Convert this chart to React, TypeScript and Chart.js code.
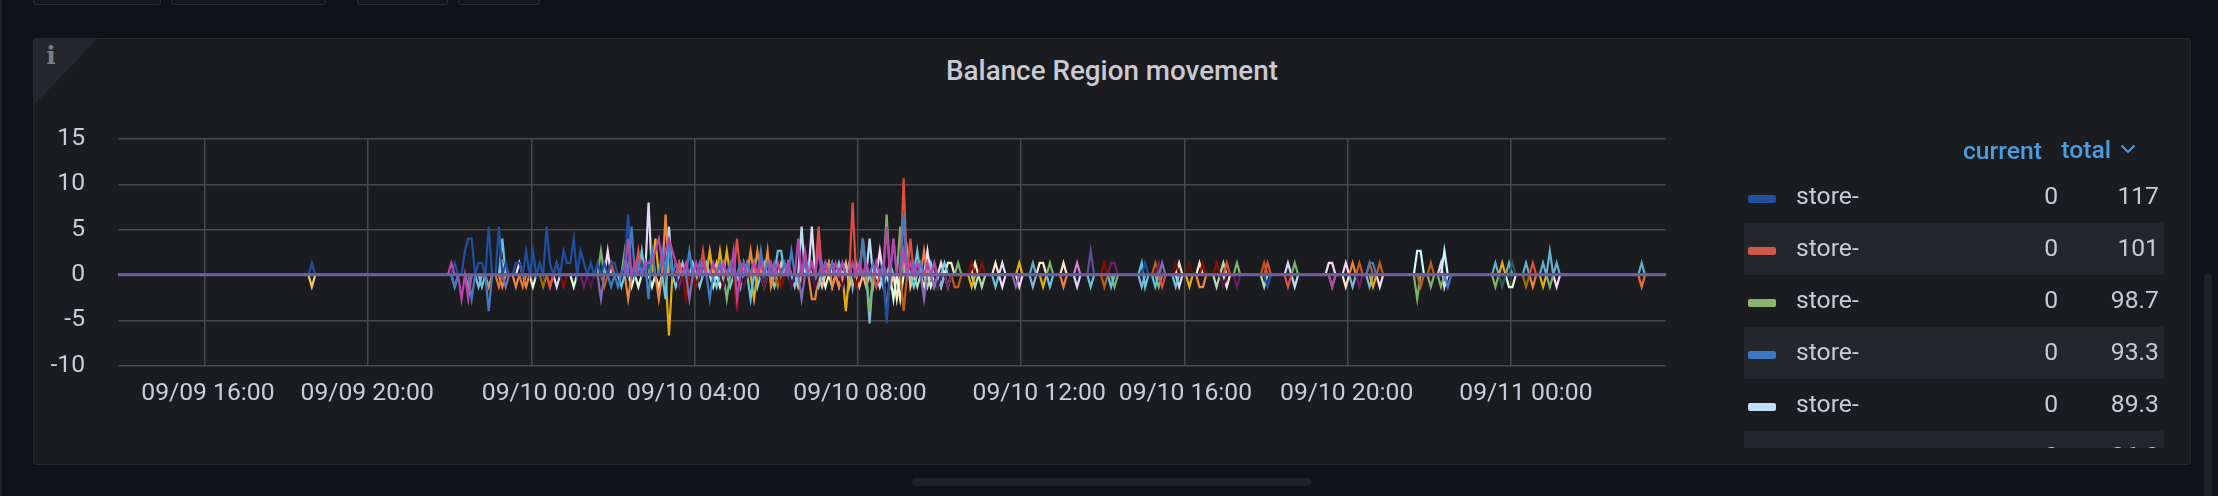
import React, { useEffect, useRef } from "react";
import { Chart, registerables } from "chart.js";

Chart.register(...registerables);

// Axis content
const tickHours = [16, 20, 24, 28, 32, 36, 40, 44, 48];
const tickLabels = ["09/09 16:00", "09/09 20:00", "09/10 00:00", "09/10 04:00", "09/10 08:00", "09/10 12:00", "09/10 16:00", "09/10 20:00", "09/11 00:00"];
const yTicks = [-10, -5, 0, 5, 10, 15];

// Legend content
const legendLabels = ["store-", "store-", "store-", "store-", "store-", "store-"];
const legendCurrent = ["0", "0", "0", "0", "0", "0"];
const legendTotal = ["117", "101", "98.7", "93.3", "89.3", "86.0"];
const legendColors = ["#2150a0", "#d2584a", "#8ab374", "#3d79c2", "#bfe0f5", "#6ed0e0"];

// Sampling of the panel: a point every 5 minutes. Events are [sample, multiple of 1.33].
const firstHour = 13.87;
const stepHours = 1 / 12;
const sampleCount = 456;
const rateUnit = 4 / 3;

type Ev = [number, number];

const darkBlue: Ev[] = [[57,1],[99,1],[102,2],[103,3],[104,3],[106,1],[107,1],[109,4],[112,4],[114,1],[117,1],[118,1],[120,2],[122,2],[124,1],[126,4],[127,1],[129,1],[131,2],[132,1],[133,1],[134,3],[136,2],[137,1],[139,1],[141,1],[143,1],[145,1],[146,1],[149,1],[150,5],[154,1],[156,1],[226,-4],[302,1],[338,-1]];
const blue: Ev[] = [[99,-1],[104,-2],[109,-3],[145,-1],[147,-1],[149,1],[151,4],[153,1],[155,1],[156,-2],[157,2],[160,2],[162,3],[164,1],[168,2],[171,1],[174,-2],[177,1],[180,1],[183,1],[185,1],[189,2],[191,1],[193,1],[196,1],[198,2],[202,1],[207,1],[210,1],[213,1],[219,3],[222,1],[225,1],[228,3],[231,5],[234,1],[236,1],[240,1],[368,1],[369,1],[391,-1]];
const red: Ev[] = [[127,-1],[145,1],[153,2],[165,1],[172,2],[182,3],[192,1],[206,4],[216,6],[223,-1],[231,8],[233,3],[307,-1],[326,1],[338,1],[344,-1],[416,1]];
const green: Ev[] = [[99,-1],[103,-1],[142,2],[149,2],[157,2],[179,-2],[221,-3],[226,5],[230,4],[247,1],[274,1],[293,-1],[306,-1],[329,1],[346,1],[357,-1],[382,-2],[386,-1],[389,-1],[405,-1],[421,-1]];
const yellow: Ev[] = [[158,3],[162,-5],[174,2],[177,2],[179,2],[187,-2],[214,-3],[251,-1],[265,1],[272,-1],[315,-1],[369,-1],[407,1],[419,-1]];
const paleYellow: Ev[] = [[57,-1]];
const orange: Ev[] = [[109,-1],[113,-1],[117,-1],[120,-1],[150,-2],[159,-2],[161,5],[186,2],[188,2],[191,2],[192,-1],[204,-2],[205,-2],[209,1],[210,-1],[212,-1],[219,3],[237,2],[278,-1],[318,-1],[319,-1],[363,1],[416,-1]];
const burntOrange: Ev[] = [[112,-1],[119,-1],[127,-1],[448,-1]];
const magenta: Ev[] = [[98,1],[101,-2],[103,-2],[150,3],[152,1],[155,1],[156,1],[157,1],[158,2],[159,3],[160,1],[161,2],[162,3],[163,2],[164,1],[167,1],[170,1],[172,1],[175,1],[178,1],[181,2],[182,-2],[184,1],[187,1],[189,1],[192,1],[194,1],[197,1],[200,3],[202,2],[204,1],[206,2],[208,1],[211,1],[213,1],[216,1],[218,1],[220,1],[223,1],[226,4],[228,3],[231,2],[233,1],[235,1],[238,1],[240,1],[357,-1]];
const teal: Ev[] = [[107,-1],[113,3],[148,-1],[154,2],[161,-2],[162,3],[186,-2],[194,2],[195,2],[235,2],[258,-1],[274,-1],[286,-1],[292,-1],[301,1],[302,-1],[305,-1],[311,-1]];
const greyTeal: Ev[] = [[269,1],[405,1],[409,1],[414,1],[419,1],[421,2],[423,1],[448,1]];
const lightTeal: Ev[] = [[164,-1],[166,1],[169,1],[171,-1],[173,1],[176,-1],[178,1],[180,-1],[183,-1],[184,1],[187,1],[188,-1],[190,1],[193,-1],[197,1],[199,-1],[203,1],[206,-1],[208,1],[212,1],[215,1],[216,-1],[217,1],[222,-1],[223,1],[225,-1],[227,1],[232,1],[234,-1],[239,1],[241,-1],[243,1]];
const peach: Ev[] = [[165,1],[176,1],[185,1],[190,-1],[195,1],[200,-1],[207,-1],[210,1],[212,-1],[214,1],[215,-1],[218,-1],[220,-1],[227,-1],[232,2],[233,-1],[240,-1]];
const cream: Ev[] = [[113,1],[209,1],[229,-2],[242,1],[244,1],[245,1],[252,1],[258,1],[271,1],[272,1],[278,1],[312,1],[318,1],[326,-1],[361,-1]];
const paleGreen: Ev[] = [[122,-1],[134,-1],[151,-1],[153,-1],[157,-1],[159,-1],[175,-1],[177,-1],[208,-1],[210,-1],[228,-2],[230,-2],[237,-1],[239,-1],[242,-1],[244,-1],[409,-1],[410,-1]];
const sage: Ev[] = [[235,-1],[238,-1],[252,-1],[254,-1],[323,-1],[325,1],[337,-1]];
const lilac: Ev[] = [[129,-1],[156,6],[204,4],[224,-1],[260,1],[282,-1],[312,-1],[344,1],[389,1],[390,-1]];
const paleBlue: Ev[] = [[162,4],[201,4],[221,3],[346,-1]];
const steelBlue: Ev[] = [[106,-1],[221,-4],[242,-1],[269,-1],[301,-1],[363,-1],[368,-1]];
const darkRed: Ev[] = [[131,-1],[167,-2],[170,-1],[182,-3],[195,-1],[217,-1],[251,1],[254,1],[290,1],[319,1],[323,1]];
const maroon: Ev[] = [[311,1],[315,1]];
const plum: Ev[] = [[137,-1],[165,-1],[244,-1],[292,1],[293,1],[306,1],[329,-1],[365,-1]];
const darkPlum: Ev[] = [[139,-1],[178,-1],[184,-1],[190,-1],[198,-1],[205,-1],[213,-1],[241,-1],[325,-1]];
const violet: Ev[] = [[114,-1],[129,1],[142,-2],[168,-2],[201,-2],[226,-3],[237,-2],[240,-1],[264,-1],[307,1]];
const indigo: Ev[] = [[286,2]];
const olive: Ev[] = [[125,-1],[194,-1],[414,-1]];
const brown: Ev[] = [[143,-1],[231,-3],[246,-1],[247,-1],[290,-1],[305,1],[337,1],[365,1],[368,1],[371,1],[383,-1],[386,1]];
const pink: Ev[] = [[118,1],[144,2],[224,2],[238,2],[260,-1],[265,-1],[356,1],[357,1],[361,1],[371,-1],[423,-1]];
const orchid: Ev[] = [[282,1]];
const darkTeal: Ev[] = [[407,-1],[410,1]];
const iceBlue: Ev[] = [[382,2],[383,2],[390,2]];
const flatSeries: Ev[] = [];

// Bottom-first drawing order
const seriesEvents: Ev[][] = [paleBlue, iceBlue, cream, paleGreen, sage, peach, pink, orchid, lilac, steelBlue, greyTeal, lightTeal, yellow, paleYellow, orange, burntOrange, green, teal, red, brown, olive, darkPlum, plum, maroon, darkRed, darkTeal, violet, indigo, darkBlue, blue, magenta, flatSeries];
const seriesColors = ["#BADFF4", "#CFFAFF", "#FCEACA", "#E0F9D7", "#B7DBAB", "#F9BA8F", "#F9D9F9", "#D683CE", "#DEDAF7", "#82B5D8", "#64B0C8", "#6ED0E0", "#E5AC0E", "#F2C96D", "#EF843C", "#E0752D", "#7EB26D", "#65C5DB", "#E24D42", "#C15C17", "#967302", "#511749", "#6D1F62", "#58140C", "#890F02", "#2F575E", "#806EB7", "#614D93", "#1F4FA0", "#3F7CC4", "#BA43A9", "#705DA0"];

const expand = (events: Ev[]) => {
  const values = new Array(sampleCount).fill(0);
  events.forEach(([sample, level]) => {
    values[sample] = level * rateUnit;
  });
  return values.map((y, i) => ({ x: firstHour + i * stepHours, y }));
};

// Layout
const AREA = { left: 118, right: 1666, top: 139, bottom: 365.6 };
const PX_PER_HOUR = (1511 - 205) / 32;
const labelNudgePx = [3, -1, 17, -1, 2, 18, 1, -1, 15];
const X_MIN = firstHour;
const X_MAX = firstHour + (AREA.right - AREA.left) / PX_PER_HOUR;
const GRID = "#47484d";
const TICK_TEXT = "#ccccd8";
const FONT = "Roboto";
const FONT_SIZE = 24.7;

const abs = (l: number, t: number, w: number, h: number, extra: React.CSSProperties = {}): React.CSSProperties => ({
  position: "absolute", left: l, top: t, width: w, height: h, ...extra,
});

export default function App() {
  const ref = useRef<HTMLCanvasElement | null>(null);

  useEffect(() => {
    document.body.style.margin = "0";
    document.body.style.overflow = "hidden";
    const chart = new Chart(ref.current as HTMLCanvasElement, {
      type: "line",
      data: {
        datasets: seriesEvents.map((events, i) => ({
          data: expand(events),
          borderColor: seriesColors[i],
          borderWidth: i === seriesEvents.length - 1 ? 2.6 : 2.2,
          pointRadius: 0,
          tension: 0,
          fill: false,
          order: seriesEvents.length - i,
        })),
      },
      options: {
        animation: false,
        responsive: false,
        devicePixelRatio: 1,
        events: [],
        layout: { padding: { left: 0, top: AREA.top, right: 2218 - AREA.right, bottom: 0 } },
        plugins: { legend: { display: false }, tooltip: { enabled: false }, title: { display: false } },
        scales: {
          y: {
            type: "linear",
            min: -10,
            max: 15,
            afterFit: (s: any) => { s.width = AREA.left; },
            afterBuildTicks: (s: any) => { s.ticks = yTicks.map((value) => ({ value })); },
            grid: { color: GRID, lineWidth: 1.5, drawTicks: false },
            border: { display: false },
            ticks: { color: TICK_TEXT, font: { family: FONT, size: FONT_SIZE }, padding: 33, align: "center" },
          },
          x: {
            type: "linear",
            min: X_MIN,
            max: X_MAX,
            afterFit: (s: any) => { s.height = 0; },
            afterBuildTicks: (s: any) => { s.ticks = tickHours.map((value) => ({ value })); },
            grid: { color: GRID, lineWidth: 1.5, drawTicks: false },
            border: { display: false },
            ticks: { display: false },
          },
          xLabels: {
            type: "linear",
            position: "bottom",
            min: X_MIN,
            max: X_MAX,
            afterFit: (s: any) => { s.height = 496 - AREA.bottom; },
            afterBuildTicks: (s: any) => {
              s.ticks = tickHours.map((h, i) => ({ value: h + labelNudgePx[i] / PX_PER_HOUR }));
            },
            grid: { display: false, drawTicks: false },
            border: { display: false },
            ticks: {
              color: TICK_TEXT,
              font: { family: FONT, size: FONT_SIZE },
              padding: 13,
              maxRotation: 0,
              autoSkip: false,
              callback: (_v: any, i: number) => tickLabels[i],
            },
          },
        },
      } as any,
    });
    return () => chart.destroy();
  }, []);

  const text: React.CSSProperties = { fontFamily: FONT, fontSize: FONT_SIZE, lineHeight: "28px", color: "#c9cad6", whiteSpace: "nowrap" };

  return (
    <div style={abs(0, 0, 2218, 496, { background: "#111217", overflow: "hidden" })}>
      {/* page chrome */}
      <div style={abs(0, 0, 2, 496, { background: "#22242a" })} />
      {[[33, 128], [171, 155], [357, 91], [458, 82]].map(([l, w], i) => (
        <div key={i} style={abs(l, -10, w, 15, { background: "#16171b", border: "1.5px solid #2c2e33", borderRadius: 3, boxSizing: "border-box" })} />
      ))}
      <div style={abs(2204, 273, 8, 240, { background: "#1f2125", borderRadius: 4 })} />
      <div style={abs(912, 478, 399, 8, { background: "#1f2125", borderRadius: 4 })} />

      {/* panel */}
      <div style={abs(33, 38, 2158, 427, { background: "#1b1c20", border: "1.5px solid #26282d", borderRadius: 3, boxSizing: "border-box" })} />
      <div style={abs(34, 39, 63, 66, { background: "#25272c", clipPath: "polygon(0 0, 100% 0, 0 100%)" })} />
      <div style={abs(44, 42, 14, 28, { fontFamily: "DejaVu Serif", fontWeight: 700, fontSize: 25, lineHeight: "28px", color: "#7b7e85", textAlign: "center" })}>i</div>
      <div style={abs(845, 55, 534, 32, { fontFamily: FONT, fontWeight: 500, fontSize: 27.8, lineHeight: "32px", color: "#c9cad2", textAlign: "center" })}>Balance Region movement</div>

      <canvas ref={ref} width={2218} height={496} style={{ position: "absolute", left: 0, top: 0, width: 2218, height: 496 }} />

      {/* legend */}
      <div style={{ ...abs(1934, 137, 108, 28), ...text, color: "#4c9ddd", fontWeight: 500, textAlign: "right" }}>current</div>
      <div style={{ ...abs(2040, 136, 71, 28), ...text, color: "#4c9ddd", fontWeight: 500, textAlign: "right" }}>total</div>
      <svg style={abs(2120, 143, 16, 12)} viewBox="0 0 16 12">
        <path d="M1.5 2.5 L8 9 L14.5 2.5" fill="none" stroke="#4c9ddd" strokeWidth="2" />
      </svg>
      <div style={abs(1744, 171, 420, 277, { overflow: "hidden" })}>
        {legendLabels.map((label, i) => (
          <div key={i} style={abs(0, i * 52, 420, 52, { background: i % 2 === 1 ? "#24262b" : "transparent" })}>
            <div style={abs(4, 24, 28, 8, { background: legendColors[i], borderRadius: 2 })} />
            <div style={{ ...abs(52, 11, 80, 28), ...text }}>{label}</div>
            <div style={{ ...abs(254, 11, 60, 28), ...text, textAlign: "right" }}>{legendCurrent[i]}</div>
            <div style={{ ...abs(335, 11, 80, 28), ...text, textAlign: "right" }}>{legendTotal[i]}</div>
          </div>
        ))}
      </div>
    </div>
  );
}
